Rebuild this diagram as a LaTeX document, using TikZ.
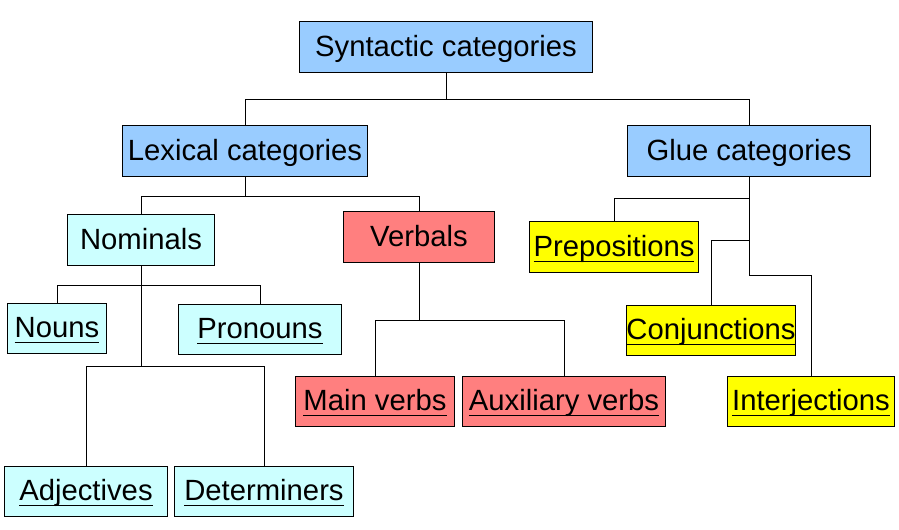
\documentclass[tikz,border=0pt]{standalone}
\usepackage{fontspec}
\setmainfont{Liberation Sans}
\usepackage{tikz}

\definecolor{catblue}{HTML}{99CCFF}
\definecolor{catcyan}{HTML}{CCFFFF}
\definecolor{catred}{HTML}{FF7F7F}
\definecolor{catyellow}{HTML}{FFFF00}

% underlined leaf label
\newcommand{\catul}[1]{\sbox0{#1}\rlap{\rule[-4pt]{\wd0}{1.1pt}}\usebox0}

\tikzset{
  cat/.style={draw, line width=0.7pt, inner sep=0pt, minimum height=1.25cm,
    text height=18pt, text depth=4pt,
    font=\fontsize{20.8}{25}\selectfont},
  blue/.style={cat, fill=catblue},
  cyan/.style={cat, fill=catcyan},
  red/.style={cat, fill=catred},
  yellow/.style={cat, fill=catyellow},
  link/.style={line width=0.7pt}
}

\begin{document}
\begin{tikzpicture}[x=0.025cm, y=-0.025cm]
\useasboundingbox (0, 0) rectangle (899, 530);
% top level
\node[blue, minimum width=7.3cm] (syn) at (446, 47) {Syntactic categories};
\node[blue, minimum width=6.125cm] (lex) at (245, 151) {Lexical categories};
\node[blue, minimum width=6.075cm] (glue) at (749, 151) {Glue categories};
% lexical side
\node[cyan, minimum width=3.675cm] (nom) at (141, 240) {Nominals};
\node[red, minimum width=3.75cm] (verb) at (419, 237) {Verbals};
\node[cyan, minimum width=2.475cm] (noun) at (57, 328) {\catul{Nouns}};
\node[cyan, minimum width=4.05cm] (pron) at (260, 329) {\catul{Pronouns}};
\node[cyan, minimum width=4.05cm] (adj) at (86, 491) {\catul{Adjectives}};
\node[cyan, minimum width=4.45cm] (det) at (264, 491) {\catul{Determiners}};
\node[red, minimum width=3.95cm] (main) at (375, 401) {\catul{Main verbs}};
\node[red, minimum width=5.05cm] (aux) at (564, 401) {\catul{Auxiliary verbs}};
% glue side
\node[yellow, minimum width=4.225cm] (prep) at (614, 247) {\catul{Prepositions}};
\node[yellow, minimum width=4.2cm] (conj) at (711, 330) {\catul{Conjunctions}};
\node[yellow, minimum width=4.15cm] (interj) at (811, 401) {\catul{Interjections}};

% branch points
\coordinate (s1) at (446, 99);
\coordinate (l1) at (245, 196);
\coordinate (g1) at (749, 198);
\coordinate (g2) at (749, 240);
\coordinate (g3) at (749, 275);
\coordinate (n1) at (141, 285);
\coordinate (n2) at (141, 366);
\coordinate (v1) at (419, 320);

\draw[link] (syn.south) -- (s1) -| (lex.north);
\draw[link] (s1) -| (glue.north);
\draw[link] (lex.south) -- (l1) -| (nom.north);
\draw[link] (l1) -| (verb.north);
\draw[link] (nom.south) -- (n2) -| (adj.north);
\draw[link] (n2) -| (det.north);
\draw[link] (n1) -| (noun.north);
\draw[link] (n1) -| (pron.north);
\draw[link] (verb.south) -- (v1) -| (main.north);
\draw[link] (v1) -| (aux.north);
\draw[link] (glue.south) -- (g3) -| (interj.north);
\draw[link] (g1) -| (prep.north);
\draw[link] (g2) -| (conj.north);
\end{tikzpicture}
\end{document}
